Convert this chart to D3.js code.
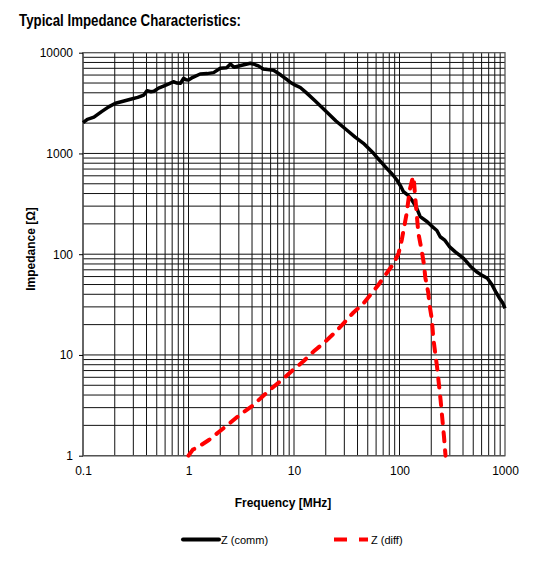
<!DOCTYPE html>
<html>
<head>
<meta charset="utf-8">
<script src="https://cdn.jsdelivr.net/npm/d3@7"></script>
<style>
  body { margin: 0; background: #fff; }
  text { font-family: "Liberation Sans", Arial, sans-serif; fill: #000; }
</style>
</head>
<body>
<div class="canvas"></div>
<script>
const dims = {'width': 538, 'height': 562};
const margin = {'left': 83, 'top': 52.7, 'right': 33, 'bottom': 106.3};

// tick labels
const xTicks = [0.1, 1, 10, 100, 1000];
const yTicks = [1, 10, 100, 1000, 10000];

// Z (comm)
const commFreq = [0.1, 0.11, 0.127, 0.15, 0.175, 0.203, 0.24, 0.282, 0.33, 0.377, 0.405, 0.44, 0.47, 0.52, 0.58,
  0.65, 0.72, 0.78, 0.84, 0.9, 0.95, 1.0, 1.1, 1.29, 1.5, 1.73, 2.0, 2.3, 2.5, 2.7, 3.2, 3.86, 4.1, 4.6, 5.1,
  5.6, 6.4, 7.5, 8.4, 9.2, 10.5, 11.4, 13.3, 16, 20.3, 25, 31.6, 38, 45.5, 56.7, 65, 75, 85, 94.4, 103, 109,
  120, 131, 145, 157, 183, 202, 226, 243, 270, 297, 340, 405, 470, 537, 600, 680, 750, 815, 880, 950, 1000];
const commZ = [2020, 2180, 2290, 2600, 2900, 3150, 3300, 3450, 3600, 3800, 4200, 4100, 4150, 4450, 4670,
  4900, 5150, 5000, 4970, 5570, 5400, 5360, 5700, 6150, 6200, 6340, 7000, 7100, 7730, 7160, 7500, 7850, 7730, 7400, 6900,
  6800, 6700, 6000, 5500, 5100, 4700, 4540, 3950, 3300, 2600, 2100, 1710, 1450, 1260, 1003, 850, 720, 625, 545, 470, 417,
  385, 345, 290, 236, 210, 190, 172, 149, 137, 119, 105, 91, 76, 67, 62, 57.7, 50, 42.5, 37, 33, 29];

// Z (diff)
const diffFreq = [1.0, 1.1, 1.2, 1.56, 1.95, 2.46, 3.06, 4.0, 5.0, 6.2, 7.75, 9.8, 12.2, 15.3, 19.2, 24.9, 29.5,
  36, 45.6, 63, 88, 98, 105, 117, 125, 133, 136, 140, 151, 162, 170, 176, 187, 193, 202, 210, 227, 245, 264, 273];
const diffZ = [1.0, 1.15, 1.2, 1.43, 1.73, 2.1, 2.54, 3.1, 3.85, 4.7, 5.7, 7.1, 8.6, 10.8, 13.2, 17, 20.6,
  25.9, 32.6, 49.5, 81, 102, 138, 255, 434, 567, 588, 400, 161, 110, 81, 58, 42, 31, 23, 14.1, 7.6, 3.6, 1.55, 1.0];

const seriesNames = ['Z (comm)', 'Z (diff)'];

const innerW = dims.width - margin.left - margin.right;
const innerH = dims.height - margin.top - margin.bottom;

const svg = d3.select('.canvas')
  .append('svg')
  .attr('width', dims.width)
  .attr('height', dims.height);

// title is set in a narrow bold face, squeeze it to the same width
svg.append('text')
  .attr('x', 19).attr('y', 25.5)
  .attr('textLength', 222)
  .attr('lengthAdjust', 'spacingAndGlyphs')
  .style('font-weight', 'bold')
  .style('font-size', '16px')
  .text('Typical Impedance Characteristics:');

const graph = svg.append('g')
  .attr('transform', `translate(${margin.left},${margin.top})`);

const x = d3.scaleLog().domain([0.1, 1000]).range([0, innerW]);
const y = d3.scaleLog().domain([1, 10000]).range([innerH, 0]);

// grid values: 1..9 of every decade
const gridX = [], gridY = [];
for (let e = -1; e < 3; e++) for (let m = 1; m < 10; m++) gridX.push(m * Math.pow(10, e));
for (let e = 0; e < 4; e++) for (let m = 1; m < 10; m++) gridY.push(m * Math.pow(10, e));

graph.append('g').selectAll('line').data(gridX).enter().append('line')
  .attr('x1', d => x(d)).attr('x2', d => x(d))
  .attr('y1', 0).attr('y2', innerH)
  .attr('stroke', '#111').attr('stroke-width', 1);

graph.append('g').selectAll('line').data(gridY).enter().append('line')
  .attr('x1', 0).attr('x2', innerW)
  .attr('y1', d => y(d)).attr('y2', d => y(d))
  .attr('stroke', '#111').attr('stroke-width', 1);

// frame
graph.append('rect')
  .attr('width', innerW).attr('height', innerH)
  .attr('fill', 'none').attr('stroke', '#555').attr('stroke-width', 1.3);

// axes
const xAxis = d3.axisBottom(x).tickValues(xTicks).tickFormat(d => String(d)).tickSize(0).tickPadding(11);
const yAxis = d3.axisLeft(y).tickValues(yTicks).tickFormat(d => String(d)).tickSize(4).tickPadding(6);

const xAxisGroup = graph.append('g').attr('transform', `translate(0,${innerH})`).call(xAxis);
const yAxisGroup = graph.append('g').call(yAxis);
[xAxisGroup, yAxisGroup].forEach(g => {
  g.select('.domain').remove();
  g.selectAll('text').style('font-size', '12px').attr('fill', '#000')
    .style('font-family', '"Liberation Sans", Arial, sans-serif');
  g.selectAll('line').attr('stroke', '#000');
});

// series
const commData = commFreq.map((f, i) => [f, commZ[i]]);
const diffData = diffFreq.map((f, i) => [f, diffZ[i]]);

const line = d3.line().x(d => x(d[0])).y(d => y(d[1]));

graph.append('path')
  .datum(commData)
  .attr('d', line)
  .attr('fill', 'none')
  .attr('stroke', '#000')
  .attr('stroke-width', 3.5)
  .attr('stroke-linejoin', 'round');

graph.append('path')
  .datum(diffData)
  .attr('d', line)
  .attr('fill', 'none')
  .attr('stroke', '#ff0000')
  .attr('stroke-width', 4)
  .attr('stroke-linecap', 'round')
  .attr('stroke-linejoin', 'round')
  .attr('stroke-dasharray', '9,9');

// axis titles
svg.append('text')
  .attr('x', 283).attr('y', 506.5)
  .attr('text-anchor', 'middle')
  .style('font-weight', 'bold').style('font-size', '12px')
  .text('Frequency [MHz]');

svg.append('text')
  .attr('transform', 'translate(34.5,249) rotate(-90)')
  .attr('text-anchor', 'middle')
  .style('font-weight', 'bold').style('font-size', '12px')
  .text('Impedance [Ω]');

// legend
const legend = svg.append('g');
legend.append('line')
  .attr('x1', 183).attr('x2', 219).attr('y1', 539.5).attr('y2', 539.5)
  .attr('stroke', '#000').attr('stroke-width', 4).attr('stroke-linecap', 'round');
legend.append('text')
  .attr('x', 221).attr('y', 543.5)
  .style('font-size', '11px')
  .text(seriesNames[0]);
legend.append('line')
  .attr('x1', 334).attr('x2', 368).attr('y1', 539.5).attr('y2', 539.5)
  .attr('stroke', '#ff0000').attr('stroke-width', 4)
  .attr('stroke-dasharray', '13,12');
legend.append('text')
  .attr('x', 371).attr('y', 543.5)
  .style('font-size', '11px')
  .text(seriesNames[1]);
</script>
</body>
</html>
